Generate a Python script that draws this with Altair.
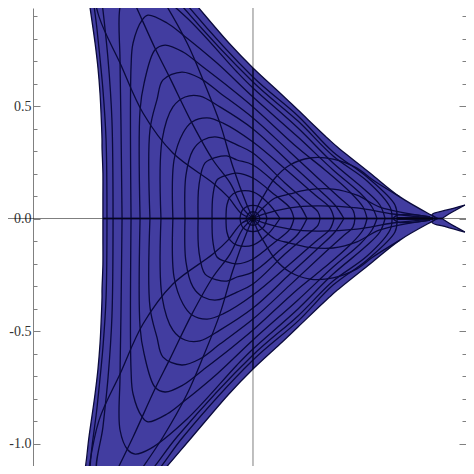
import altair as alt
import pandas as pd

# Upper half of the symmetric figure in plot units.
edge_y = [1.193, 1.136, .971, .780, .669, .558, .482, .349, .318, .202, .096, .016, 0]
edge_left = [-.775, -.751, -.729, -.702, -.689, -.680, -.676, -.671, -.671, -.667, -.667, -.667, -.667]
edge_right = [-.47, -.413, -.271, -.107, 0, .120, .200, .340, .375, .520, .653, .791, .822]
tail_y = [.060, .038, .018, 0]
tail_left = [.942, .862, .796, .813]
tail_right = [.942, .902, .867, .840]

o1_x = [-.649, -.653, -.667, -.693, -.724, -.702, -.591, -.436, -.311, 0, .200, .356, .507, .631, .640]
o1_y = [0, .349, .573, .838, 1.136, 1.238, 1.282, 1.136, .971, .629, .456, .296, .184, .060, 0]
o2_x = [-.622, -.627, -.644, -.667, -.693, -.636, -.547, -.467, -.338, 0, .200, .356, .507, .609, .618]
o2_y = [0, .438, .704, .927, 1.136, 1.193, 1.193, 1.136, .971, .607, .433, .278, .167, .051, 0]
o3_x = [-.582, -.587, -.591, -.591, -.556, -.524, -.458, -.293, -.071, 0, .200, .356, .498, .564, .587]
o3_y = [0, .438, .704, .940, 1.029, 1.047, 1.024, .891, .651, .580, .402, .247, .127, .060, 0]
c1_x = [-.542, -.542, -.533, -.493, -.467, -.382, -.311, -.160, 0, .200, .356, .476, .529, .551]
c1_y = [0, .673, .780, .882, .904, .869, .816, .691, .540, .362, .216, .113, .051, 0]
c2_x = [-.502, -.502, -.484, -.436, -.391, -.311, -.222, -.102, 0, .200, .320, .431, .489, .507]
c2_y = [0, .482, .602, .749, .771, .740, .673, .580, .496, .313, .216, .118, .051, 0]
c3_x = [-.458, -.458, -.427, -.400, -.316, -.236, -.147, 0, .164, .298, .396, .444, .453]
c3_y = [0, .393, .527, .616, .651, .624, .558, .447, .296, .171, .082, .038, 0]
c4_x = [-.409, -.404, -.356, -.302, -.236, -.147, 0, .164, .276, .364, .404]
c4_y = [0, .349, .496, .540, .544, .496, .398, .247, .144, .060, 0]
c5_x = [-.356, -.351, -.311, -.271, -.204, -.133, 0, .164, .276, .342, .360]
c5_y = [0, .260, .380, .429, .447, .424, .340, .202, .104, .047, 0]
c6_x = [-.302, -.298, -.267, -.222, -.160, -.071, 0, .142, .240, .289, .298]
c6_y = [0, .193, .304, .349, .362, .327, .291, .158, .073, .029, 0]
c7_x = [-.244, -.240, -.213, -.160, -.116, -.071, 0, .120, .200, .240]
c7_y = [0, .149, .247, .273, .278, .260, .238, .140, .069, 0]
c8_x = [-.182, -.178, -.160, -.116, -.071, 0, .098, .164, .182]
c8_y = [0, .104, .171, .193, .202, .180, .104, .047, 0]
c9_x = [-.120, -.116, -.102, -.071, 0, .067, .120]
c9_y = [0, .060, .096, .118, .118, .069, 0]
c10_x = [-.058, -.045, 0, .045, .062]
c10_y = [0, .040, .058, .040, 0]
c11_x = [-.031, -.020, 0, .020, .031]
c11_y = [0, .022, .030, .022, 0]

r1_x = [0, .044, .164, .284, .462, .622, .787]
r1_y = [0, .018, .047, .056, .047, .020, .004]
r2_x = [0, .044, .098, .164, .240, .356, .462, .564, .787]
r2_y = [0, .047, .091, .109, .127, .131, .104, .051, .007]
r3_x = [0, .022, .049, .098, .164, .253, .356, .462, .533, .653]
r3_y = [0, .056, .104, .180, .238, .269, .264, .224, .171, .096]
r4_x = [0, -.027, -.089, -.147, -.222, -.293, -.400, -.511]
r4_y = [0, .060, .229, .424, .616, .780, .971, 1.136]
r5_x = [0, -.044, -.102, -.178, -.271, -.369, -.436, -.533, -.613]
r5_y = [0, .044, .158, .260, .424, .624, .758, .971, 1.136]
r6_x = [0, -.049, -.111, -.178, -.356, -.489, -.591, -.684, -.733]
r6_y = [0, .020, .096, .158, .291, .469, .691, .896, 1.136]
r7_x = [0, 0]
r7_y = [0, .669]
oval_x = [.622, .644, .720, .787]
oval_y = [0, .016, .016, .007]
axis_ray_x = [-.667, .84]
axis_ray_y = [0, 0]
slit_x = [.64, .80]
slit_y = [0, 0]
hub_x = [0]
hub_y = [0]

y_ticks = [-1.0, -.9, -.8, -.7, -.6, -.5, -.4, -.3, -.2, -.1, 0, .1, .2, .3, .4, .5, .6, .7, .8, .9]
y_labels = [-1.0, -.5, 0.0, .5]
x_domain = [-1.0889, .9467]
y_domain = [-1.1, .9356]

FILL = "#423da0"
INK = "#0a0a3c"
GREY = "#808080"

curves = {
    "o1": (o1_x, o1_y), "o2": (o2_x, o2_y), "o3": (o3_x, o3_y),
    "c1": (c1_x, c1_y), "c2": (c2_x, c2_y), "c3": (c3_x, c3_y), "c4": (c4_x, c4_y),
    "c5": (c5_x, c5_y), "c6": (c6_x, c6_y), "c7": (c7_x, c7_y), "c8": (c8_x, c8_y),
    "c9": (c9_x, c9_y), "c10": (c10_x, c10_y), "c11": (c11_x, c11_y),
    "r1": (r1_x, r1_y), "r2": (r2_x, r2_y), "r3": (r3_x, r3_y), "r4": (r4_x, r4_y),
    "r5": (r5_x, r5_y), "r6": (r6_x, r6_y), "r7": (r7_x, r7_y), "oval": (oval_x, oval_y),
    "left": (edge_left, edge_y), "right": (edge_right, edge_y),
    "tl": (tail_left, tail_y), "tr": (tail_right, tail_y),
    "axis": (axis_ray_x, axis_ray_y),
}

rows = []
for name, (xs, ys) in curves.items():
    for i, (a, b) in enumerate(zip(xs, ys)):
        rows.append({"curve": name + "+", "i": i, "x": a, "y": b})
        rows.append({"curve": name + "-", "i": i, "x": a, "y": -b})
lines = pd.DataFrame(rows)

body = pd.concat([
    pd.DataFrame({"y": edge_y, "l": edge_left, "r": edge_right, "part": "body"}),
    pd.DataFrame({"y": [-v for v in edge_y], "l": edge_left, "r": edge_right, "part": "body"}),
    pd.DataFrame({"y": tail_y, "l": tail_left, "r": tail_right, "part": "t1"}),
    pd.DataFrame({"y": [-v for v in tail_y], "l": tail_left, "r": tail_right, "part": "t2"}),
]).drop_duplicates().sort_values("y")

slit = pd.DataFrame({"x": slit_x, "y": slit_y})
hub = pd.DataFrame({"x": hub_x, "y": hub_y})

xs = alt.Scale(domain=x_domain, nice=False, zero=False)
ys = alt.Scale(domain=y_domain, nice=False, zero=False)
tick_len = {"condition": {"test": "abs(datum.value*2-round(datum.value*2))<0.001", "value": 7}, "value": 4}

area = alt.Chart(body).mark_area(orient="horizontal", color=FILL, clip=True, interpolate="monotone").encode(
    y=alt.Y("y:Q", scale=ys, axis=alt.Axis(
        orient="left", offset=-25, values=y_labels, tickSize=0, domain=False, grid=False, title=None,
        labelExpr="replace(format(datum.value,'.1f'),'\u2212','-')",
        labelFont="Liberation Serif", labelFontSize=14, labelColor="#333333", labelPadding=2)),
    x=alt.X("l:Q", scale=xs, axis=None),
    x2="r:Q",
    detail="part:N",
)
web = alt.Chart(lines).mark_line(color=INK, strokeWidth=1.3, interpolate="catmull-rom", clip=True).encode(
    x=alt.X("x:Q", scale=xs, axis=None),
    y=alt.Y("y:Q", scale=ys, axis=alt.Axis(
        orient="right", offset=-433, values=y_ticks, tickSize=tick_len, tickColor=GREY, domainColor=GREY,
        labels=False, grid=False, title=None)),
    detail="curve:N",
    order="i:Q",
)
thick = alt.Chart(slit).mark_line(color="#08082c", strokeWidth=3, clip=True).encode(
    x=alt.X("x:Q", scale=xs, axis=None),
    y=alt.Y("y:Q", scale=ys, axis=alt.Axis(
        orient="left", offset=-458, values=y_ticks, tickSize=tick_len, tickColor=GREY, domain=False,
        labels=False, grid=False, title=None)),
)
dot = alt.Chart(hub).mark_point(filled=True, color="#08082c", size=40, opacity=1).encode(
    x=alt.X("x:Q", scale=xs, axis=None),
    y=alt.Y("y:Q", scale=ys, axis=None),
)
hrule = alt.Chart(pd.DataFrame({"v": [0]})).mark_rule(color="#000000", opacity=.5, strokeWidth=1).encode(
    y=alt.Y("v:Q", scale=ys, axis=None))
vrule = alt.Chart(pd.DataFrame({"v": [0]})).mark_rule(color="#000000", opacity=.5, strokeWidth=1).encode(
    x=alt.X("v:Q", scale=xs, axis=None))

chart = alt.layer(area, web, thick, dot, hrule, vrule).resolve_scale(y="independent").properties(
    width=458, height=458, padding=0, autosize=alt.AutoSizeParams(type="none")
).configure_view(stroke=None)

chart.save("out.html", embed_options={"renderer": "svg", "actions": False})
